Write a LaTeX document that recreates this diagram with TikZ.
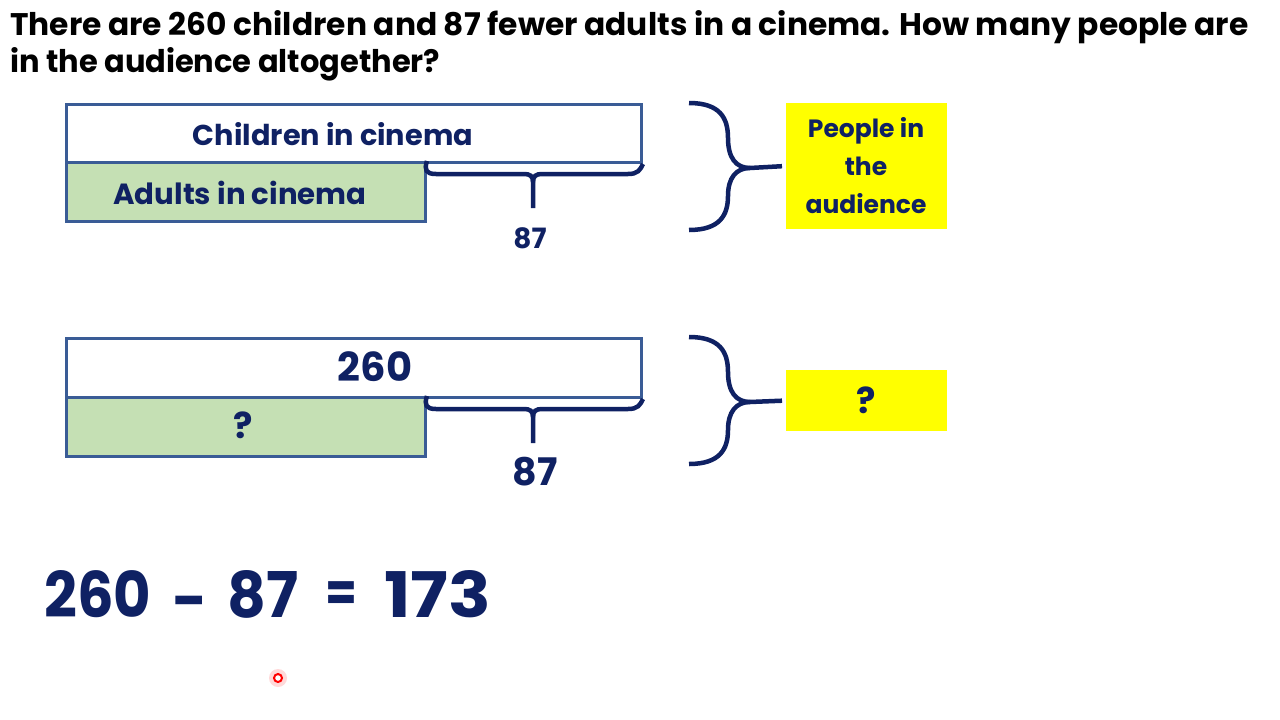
\documentclass[tikz,border=0pt]{standalone}
\usepackage{fontspec}
\setmainfont{Poppins}
\usepackage{graphicx}
\definecolor{navy}{HTML}{0F2163}
\definecolor{boxblue}{HTML}{3A5C96}
\definecolor{adultgreen}{HTML}{C5E0B4}
\definecolor{hl}{HTML}{FFFF00}
\begin{document}
\begin{tikzpicture}[x=1pt,y=-1pt,
  bar/.style={draw=boxblue, line width=3pt, inner sep=0pt, anchor=north west},
  brc/.style={draw=navy, line width=4.5pt},
  lbl/.style={text=navy, inner sep=0pt},
  eqn/.style={text=navy, inner sep=0pt, anchor=base west, font=\bfseries\fontsize{60}{66}\selectfont},
  ttl/.style={text=black, inner sep=0pt, anchor=base west}]
\useasboundingbox[fill=white] (0,0) rectangle (1280,720);
% title
\node[ttl] (t1) at (10,35) {\resizebox{1238pt}{25pt}{\bfseries There are 260 children and 87 fewer adults in a cinema. How many people are}};
\node[ttl] (t2) at (10,72) {\resizebox{430pt}{25pt}{\bfseries in the audience altogether?}};
% top diagram
\node[bar, fill=white, minimum width=575pt, minimum height=58pt] (child1) at (65,103) {};
\node[bar, fill=adultgreen, minimum width=359pt, minimum height=59pt] (adult1) at (65,161) {};
\node[lbl] (childlbl1) at (333,134) {\resizebox{280pt}{!}{\bfseries Children in cinema}};
\node[lbl] (adultlbl1) at (240,193) {\resizebox{253pt}{!}{\bfseries Adults in cinema}};
\draw[brc] (adult1.north east) .. controls (424,170) and (426,174) .. (436,174) -- (524,174) .. controls (530,174) and (533,176) .. (533,182) -- (533,208);
\draw[brc] (child1.south east) .. controls (640,170) and (638,174) .. (628,174) -- (542,174) .. controls (536,174) and (533,176) .. (533,182);
\node[lbl, font=\bfseries\fontsize{28}{32}\selectfont] (d1) at (530,238) {87};
\coordinate (tip1) at (750,168);
\draw[brc] (689,103) .. controls (720,103) and (728,118) .. (728,138) .. controls (728,158) and (736,168) .. (tip1);
\draw[brc] (689,230) .. controls (720,230) and (728,215) .. (728,196) .. controls (728,178) and (736,168) .. (tip1);
\node[fill=hl, minimum width=161pt, minimum height=126pt, anchor=north west, inner sep=0pt] (ppl1) at (786,103) {};
\node[lbl, align=center, font=\bfseries\fontsize{25}{38}\selectfont] (ppllbl1) at (866,166) {People in\\the\\audience};
\draw[brc] (tip1) -- ([xshift=-4pt]ppl1.west);
% bottom diagram
\node[bar, fill=white, minimum width=575pt, minimum height=59pt] (child2) at (65,337) {};
\node[bar, fill=adultgreen, minimum width=359pt, minimum height=59pt] (adult2) at (65,396) {};
\node[lbl, font=\bfseries\fontsize{40}{44}\selectfont] (childlbl2) at (375,367) {260};
\node[lbl, font=\bfseries\fontsize{36}{40}\selectfont] (adultlbl2) at (243,425) {?};
\draw[brc] (adult2.north east) .. controls (424,405) and (426,409) .. (436,409) -- (524,409) .. controls (530,409) and (533,411) .. (533,417) -- (533,443);
\draw[brc] (child2.south east) .. controls (640,405) and (638,409) .. (628,409) -- (542,409) .. controls (536,409) and (533,411) .. (533,417);
\node[lbl, font=\bfseries\fontsize{38}{42}\selectfont] (d2) at (535,472) {87};
\coordinate (tip2) at (750,402);
\draw[brc] (689,337) .. controls (720,337) and (728,352) .. (728,372) .. controls (728,392) and (736,402) .. (tip2);
\draw[brc] (689,464) .. controls (720,464) and (728,449) .. (728,430) .. controls (728,412) and (736,402) .. (tip2);
\node[fill=hl, minimum width=161pt, minimum height=61pt, anchor=north west, inner sep=0pt] (ppl2) at (786,370) {};
\node[lbl, font=\bfseries\fontsize{36}{40}\selectfont] (ppllbl2) at (866,400) {?};
\draw[brc] (tip2) -- ([xshift=-4pt]ppl2.west);
% equation
\node[eqn] (eqa) at (44,617) {\resizebox{107pt}{47pt}{260}};
\node[lbl, font=\bfseries\fontsize{60}{66}\selectfont] (eqm) at (189,609) {\scalebox{0.8}[1]{–}};
\node[eqn] (eqb) at (227,617) {\resizebox{71pt}{47pt}{87}};
\node[lbl, font=\bfseries\fontsize{54}{60}\selectfont] (eqe) at (341,597) {\scalebox{0.85}[1]{=}};
\node[eqn] (eqc) at (384,617) {\resizebox{107pt}{47pt}{173}};
% pointer
\fill[red!15] (278,678) circle (9);
\node[circle, draw=red, line width=2pt, fill=white, inner sep=0pt, minimum size=8pt] (ptr) at (278,678) {};
\end{tikzpicture}
\end{document}
